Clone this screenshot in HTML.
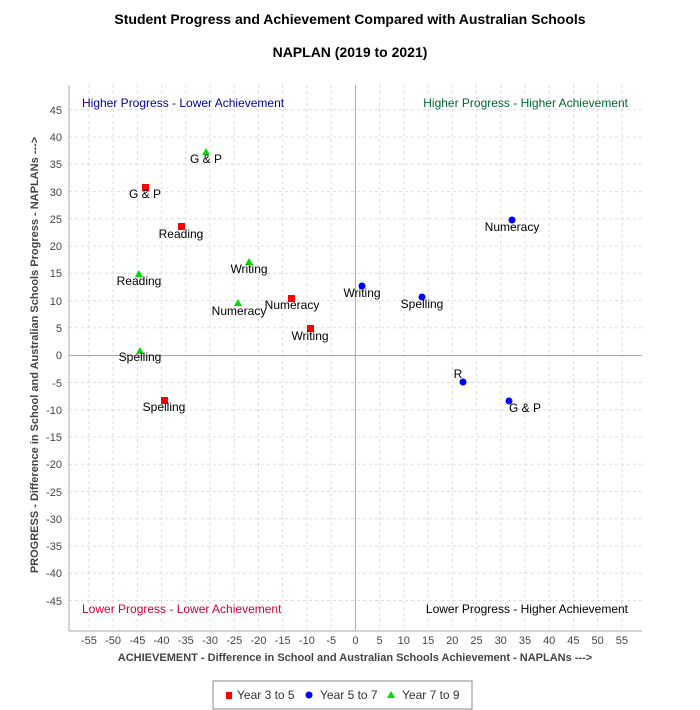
<!DOCTYPE html>
<html><head><meta charset="utf-8"><style>
html,body{margin:0;padding:0;background:#fff;}
svg{display:block;font-family:"Liberation Sans",Arial,sans-serif;}
</style></head><body>
<svg width="700" height="710" viewBox="0 0 700 710" xmlns="http://www.w3.org/2000/svg">
<rect width="700" height="710" fill="#fff"/>
<text x="350" y="24" text-anchor="middle" font-size="14" font-weight="bold">Student Progress and Achievement Compared with Australian Schools</text>
<text x="350" y="57" text-anchor="middle" font-size="14" font-weight="bold">NAPLAN (2019 to 2021)</text>
<g stroke="#ddd" stroke-dasharray="3,3" stroke-width="1">
<line x1="88.9" y1="85" x2="88.9" y2="631"/><line x1="113.1" y1="85" x2="113.1" y2="631"/><line x1="137.4" y1="85" x2="137.4" y2="631"/><line x1="161.6" y1="85" x2="161.6" y2="631"/><line x1="185.8" y1="85" x2="185.8" y2="631"/><line x1="210.0" y1="85" x2="210.0" y2="631"/><line x1="234.3" y1="85" x2="234.3" y2="631"/><line x1="258.5" y1="85" x2="258.5" y2="631"/><line x1="282.7" y1="85" x2="282.7" y2="631"/><line x1="306.9" y1="85" x2="306.9" y2="631"/><line x1="331.2" y1="85" x2="331.2" y2="631"/><line x1="379.6" y1="85" x2="379.6" y2="631"/><line x1="403.8" y1="85" x2="403.8" y2="631"/><line x1="428.1" y1="85" x2="428.1" y2="631"/><line x1="452.3" y1="85" x2="452.3" y2="631"/><line x1="476.5" y1="85" x2="476.5" y2="631"/><line x1="500.7" y1="85" x2="500.7" y2="631"/><line x1="525.0" y1="85" x2="525.0" y2="631"/><line x1="549.2" y1="85" x2="549.2" y2="631"/><line x1="573.4" y1="85" x2="573.4" y2="631"/><line x1="597.6" y1="85" x2="597.6" y2="631"/><line x1="621.9" y1="85" x2="621.9" y2="631"/>
<line x1="69" y1="109.8" x2="642" y2="109.8"/><line x1="69" y1="137.1" x2="642" y2="137.1"/><line x1="69" y1="164.3" x2="642" y2="164.3"/><line x1="69" y1="191.6" x2="642" y2="191.6"/><line x1="69" y1="218.8" x2="642" y2="218.8"/><line x1="69" y1="246.1" x2="642" y2="246.1"/><line x1="69" y1="273.3" x2="642" y2="273.3"/><line x1="69" y1="300.6" x2="642" y2="300.6"/><line x1="69" y1="327.8" x2="642" y2="327.8"/><line x1="69" y1="382.5" x2="642" y2="382.5"/><line x1="69" y1="409.8" x2="642" y2="409.8"/><line x1="69" y1="437.0" x2="642" y2="437.0"/><line x1="69" y1="464.3" x2="642" y2="464.3"/><line x1="69" y1="491.5" x2="642" y2="491.5"/><line x1="69" y1="518.8" x2="642" y2="518.8"/><line x1="69" y1="546.0" x2="642" y2="546.0"/><line x1="69" y1="573.3" x2="642" y2="573.3"/><line x1="69" y1="600.5" x2="642" y2="600.5"/>
</g>
<line x1="355.4" y1="85" x2="355.4" y2="631" stroke="#aaa"/>
<line x1="69" y1="355.5" x2="642" y2="355.5" stroke="#aaa"/>
<line x1="69" y1="85" x2="69" y2="631" stroke="#aaa"/>
<line x1="69" y1="631" x2="642" y2="631" stroke="#aaa"/>
<g font-size="11" fill="#444" text-anchor="end">
<text x="62" y="114">45</text><text x="62" y="141">40</text><text x="62" y="168">35</text><text x="62" y="196">30</text><text x="62" y="223">25</text><text x="62" y="250">20</text><text x="62" y="277">15</text><text x="62" y="305">10</text><text x="62" y="332">5</text><text x="62" y="359">0</text><text x="62" y="387">-5</text><text x="62" y="414">-10</text><text x="62" y="441">-15</text><text x="62" y="468">-20</text><text x="62" y="496">-25</text><text x="62" y="523">-30</text><text x="62" y="550">-35</text><text x="62" y="577">-40</text><text x="62" y="605">-45</text>
</g>
<g font-size="11" fill="#444" text-anchor="middle">
<text x="88.9" y="644">-55</text><text x="113.1" y="644">-50</text><text x="137.4" y="644">-45</text><text x="161.6" y="644">-40</text><text x="185.8" y="644">-35</text><text x="210.0" y="644">-30</text><text x="234.3" y="644">-25</text><text x="258.5" y="644">-20</text><text x="282.7" y="644">-15</text><text x="306.9" y="644">-10</text><text x="331.2" y="644">-5</text><text x="355.4" y="644">0</text><text x="379.6" y="644">5</text><text x="403.8" y="644">10</text><text x="428.1" y="644">15</text><text x="452.3" y="644">20</text><text x="476.5" y="644">25</text><text x="500.7" y="644">30</text><text x="525.0" y="644">35</text><text x="549.2" y="644">40</text><text x="573.4" y="644">45</text><text x="597.6" y="644">50</text><text x="621.9" y="644">55</text>
</g>
<text x="355" y="661" text-anchor="middle" font-size="11" font-weight="bold" fill="#444">ACHIEVEMENT - Difference in School and Australian Schools Achievement - NAPLANs  ---&gt;</text>
<text transform="translate(38,355) rotate(-90)" text-anchor="middle" font-size="11" font-weight="bold" fill="#444">PROGRESS - Difference in School and Australian Schools Progress - NAPLANs  ---&gt;</text>
<g font-size="12">
<text x="82" y="107" fill="#0000aa">Higher Progress - Lower Achievement</text>
<text x="628" y="107" text-anchor="end" fill="#006633">Higher Progress - Higher Achievement</text>
<text x="82" y="613" fill="#cc0033">Lower Progress - Lower Achievement</text>
<text x="628" y="613" text-anchor="end" fill="#000">Lower Progress - Higher Achievement</text>
</g>
<g fill="#f00">
<rect x="142" y="184" width="7" height="7"/><rect x="178" y="223" width="7" height="7"/><rect x="288" y="295" width="7" height="7"/><rect x="307" y="325" width="7" height="7"/><rect x="161" y="397" width="7" height="7"/>
</g>
<g fill="#00f">
<circle cx="512" cy="220" r="3.5"/><circle cx="362" cy="286" r="3.5"/><circle cx="422" cy="297" r="3.5"/><circle cx="463" cy="382" r="3.5"/><circle cx="509" cy="401" r="3.5"/>
</g>
<g fill="#0d0">
<polygon points="206,148 210,155 202,155"/><polygon points="249,258 253,265 245,265"/><polygon points="139,270 143,277 135,277"/><polygon points="238,299 242,306 234,306"/><polygon points="140,347 144,354 136,354"/>
</g>
<g font-size="12" fill="#000" text-anchor="middle">
<text x="145" y="198">G &amp; P</text><text x="181" y="238">Reading</text><text x="292" y="309">Numeracy</text><text x="310" y="340">Writing</text><text x="164" y="411">Spelling</text>
<text x="512" y="231">Numeracy</text><text x="362" y="297">Writing</text><text x="422" y="308">Spelling</text><text x="458" y="378">R</text><text x="525" y="412">G &amp; P</text>
<text x="206" y="163">G &amp; P</text><text x="249" y="273">Writing</text><text x="139" y="285">Reading</text><text x="239" y="315">Numeracy</text><text x="140" y="361">Spelling</text>
</g>
<rect x="213" y="681" width="259" height="28" fill="#fff" stroke="#888"/>
<rect x="226" y="692" width="6" height="7" fill="#f00"/>
<text x="237" y="699" font-size="12" fill="#333">Year 3 to 5</text>
<circle cx="309" cy="695" r="3.5" fill="#00f"/>
<text x="320" y="699" font-size="12" fill="#333">Year 5 to 7</text>
<polygon points="391,691 395,698 387,698" fill="#0d0"/>
<text x="402" y="699" font-size="12" fill="#333">Year 7 to 9</text>
</svg>
</body></html>
